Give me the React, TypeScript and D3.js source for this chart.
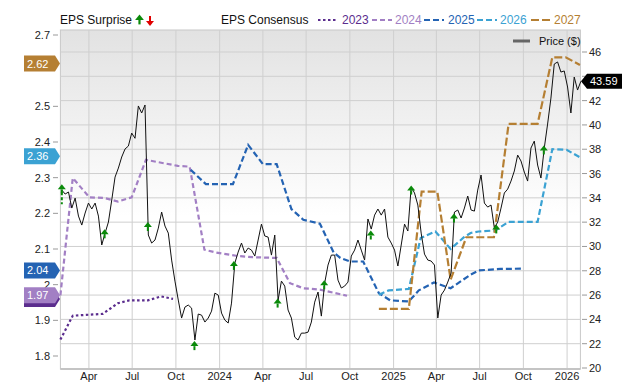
import React from "react";
import * as d3 from "d3";

const W = 640;
const H = 382;

// Weekly closing prices starting at priceStart
const priceStart = "2023-02-03";
const prices = [
  34.64, 34.31, 34.48, 33.16, 33.98, 32.5, 31.76, 32.75, 33.57, 33.08,
  33.57, 32.5, 30.12, 31.1, 32.01, 33.82, 35.71, 36.45, 37.36, 38.02,
  38.26, 39.33, 38.9, 41.56, 40.98, 41.64, 30.94, 30.28, 30.53, 31.51,
  32.83, 31.68, 31.1, 28.88, 27.15, 25.59, 24.11, 25.01, 25.18, 24.93,
  22.3, 24.44, 24.35, 23.78, 24.11, 24.68, 26.16, 26.0, 24.52, 23.94,
  23.7, 25.34, 28.63, 29.54, 30.28, 29.46, 29.87, 29.7, 29.21, 30.53,
  31.84, 30.86, 30.77, 29.29, 30.94, 25.59, 27.15, 26.74, 24.77, 24.11,
  22.54, 22.3, 22.87, 22.87, 22.95, 23.78, 25.42, 26.25, 24.27, 26.99,
  28.47, 29.29, 29.29, 27.23, 26.58, 26.74, 27.07, 29.21, 29.7, 30.53,
  29.7, 28.88, 32.26, 31.43, 32.58, 33.08, 32.58, 33.08, 30.77, 30.28,
  29.7, 28.39, 30.12, 31.84, 31.27, 34.89, 34.4, 33.41, 31.1, 29.37,
  28.88, 28.8, 28.47, 24.11, 26.0, 26.41, 27.07, 27.81, 32.83, 33.0,
  32.34, 33.16, 34.15, 33.0, 32.91, 34.64, 35.88, 33.57, 33.24, 33.41,
  31.51, 32.01, 33.16, 34.4, 34.72, 35.38, 36.21, 37.52, 37.03, 36.12,
  35.38, 38.1, 38.67, 36.7, 35.63, 38.1, 40.07, 42.21, 45.01, 45.18,
  44.35, 44.44, 43.12, 40.98, 43.94, 42.87, 43.59,
];

const eps2023: [string, number][] = [
  ["2023-01-31", 1.846], ["2023-02-26", 1.913], ["2023-04-30", 1.918],
  ["2023-06-01", 1.948], ["2023-06-25", 1.956], ["2023-08-03", 1.956],
  ["2023-08-31", 1.967], ["2023-09-25", 1.96],
];
const eps2024: [string, number][] = [
  ["2023-01-31", 1.97], ["2023-02-26", 2.299], ["2023-04-02", 2.245],
  ["2023-05-04", 2.243], ["2023-06-01", 2.233], ["2023-06-30", 2.245],
  ["2023-07-30", 2.35], ["2023-10-05", 2.333], ["2023-10-30", 2.331],
  ["2023-11-30", 2.098], ["2023-12-25", 2.09], ["2024-02-05", 2.081],
  ["2024-03-11", 2.077], ["2024-04-30", 2.075], ["2024-05-28", 2.004],
  ["2024-06-25", 1.99], ["2024-07-30", 1.986], ["2024-09-25", 1.969],
];
const eps2025: [string, number][] = [
  ["2023-11-01", 2.322], ["2023-12-03", 2.282], ["2024-01-29", 2.282],
  ["2024-03-01", 2.392], ["2024-04-01", 2.338], ["2024-04-30", 2.338],
  ["2024-05-31", 2.212], ["2024-06-25", 2.182], ["2024-07-30", 2.171],
  ["2024-08-28", 2.09], ["2024-09-11", 2.075], ["2024-10-01", 2.065],
  ["2024-10-29", 2.065], ["2024-12-01", 1.976], ["2024-12-25", 1.956],
  ["2025-02-02", 1.953], ["2025-02-23", 1.984], ["2025-03-27", 2.006],
  ["2025-05-01", 1.99], ["2025-06-12", 2.028], ["2025-06-29", 2.04],
  ["2025-08-14", 2.044], ["2025-10-02", 2.045],
];
const eps2026: [string, number][] = [
  ["2024-12-01", 1.972], ["2024-12-22", 1.984], ["2025-02-02", 1.988],
  ["2025-02-27", 2.131], ["2025-03-30", 2.149], ["2025-05-01", 2.1],
  ["2025-05-29", 2.133], ["2025-06-12", 2.145], ["2025-06-29", 2.149],
  ["2025-08-03", 2.152], ["2025-08-31", 2.176], ["2025-10-31", 2.176],
  ["2025-12-01", 2.38], ["2025-12-31", 2.378], ["2026-01-28", 2.357],
];
const eps2027: [string, number][] = [
  ["2024-12-01", 1.932], ["2025-02-02", 1.932], ["2025-03-01", 2.261],
  ["2025-04-03", 2.261], ["2025-05-01", 2.014], ["2025-06-03", 2.133],
  ["2025-07-31", 2.133], ["2025-08-31", 2.451], ["2025-10-31", 2.451],
  ["2025-12-01", 2.6375], ["2025-12-29", 2.6375], ["2026-01-28", 2.616],
];

const surpriseDates = [
  "2023-02-03", "2023-05-04", "2023-08-03", "2023-11-09", "2024-01-31", "2024-05-02",
  "2024-08-08", "2024-11-14", "2025-02-07", "2025-05-08", "2025-08-05", "2025-11-13",
];
const surpriseValues = [34.7, 31.0, 31.6, 21.8, 28.4, 25.3, 26.8, 30.9, 34.6, 32.3, 31.4, 37.9];

const seriesNames = ["2023", "2024", "2025", "2026", "2027"];
const seriesColors = ["#5b2d8e", "#a27fc4", "#2463b3", "#3ba2d3", "#b57f33"];
const seriesDash = ["2.5,2.5", "5,3", "6,3", "6,3", "8,3"];
const badgeValues = [1.96, 1.97, 2.04, 2.36, 2.62];
// the 2023 badge sits hidden behind the 2024 one, so its label is not shown
const badgeLabels = ["", "1.97", "2.04", "2.36", "2.62"];

const leftTicks = [1.8, 1.9, 2.0, 2.1, 2.2, 2.3, 2.4, 2.5, 2.7];
const leftTickLabels = ["1.8", "1.9", "2", "2.1", "2.2", "2.3", "2.4", "2.5", "2.7"];
const rightTicks = [20, 22, 24, 26, 28, 30, 32, 34, 36, 38, 40, 42, 44, 46];
const rightHiddenLabels = [44];
const lastPriceLabel = "43.59";

const FONT = "'Liberation Sans', Arial, sans-serif";

export default function App() {
  const parse = d3.utcParse("%Y-%m-%d");
  const x = d3.scaleUtc()
    .domain([parse("2023-01-31")!, parse("2026-01-29")!])
    .range([60.4, 580.4]);
  const yL = d3.scaleLinear().domain([1.8, 2.7]).range([356, 35]);
  const yR = d3.scaleLinear().domain([20, 46]).range([368, 52]);
  const plotTop = 30;
  const plotBottom = 369;
  const [x0, x1] = x.range();

  const start = parse(priceStart)!;
  const priceData = prices.map((v, i) => ({ d: d3.utcDay.offset(start, 7 * i), v }));
  const priceLine = d3.line<{ d: Date; v: number }>().x((p) => x(p.d)).y((p) => yR(p.v));
  const epsLine = d3.line<[string, number]>().x((p) => x(parse(p[0])!)).y((p) => yL(p[1]));
  const epsSeries = [eps2023, eps2024, eps2025, eps2026, eps2027];

  const qTicks = x.ticks(d3.utcMonth.every(3)!);
  const fmtTick = (d: Date) => (d.getUTCMonth() === 0 ? d3.utcFormat("%Y")(d) : d3.utcFormat("%b")(d));

  const lastPrice = prices[prices.length - 1];

  const arrowUp = (cx: number, cy: number, color: string, k = 1) => (
    <g>
      <path d={`M${cx},${cy - 5 * k} L${cx - 4 * k},${cy} L${cx + 4 * k},${cy} Z`} fill={color} />
      <rect x={cx - 1 * k} y={cy} width={2 * k} height={4 * k} fill={color} />
    </g>
  );

  const legendItems = [
    { lx: 318, tx: 342 },
    { lx: 372, tx: 395 },
    { lx: 424, tx: 448 },
    { lx: 477, tx: 500 },
    { lx: 531, tx: 554 },
  ];

  return (
    <svg width={W} height={H} style={{ position: "fixed", left: 0, top: 0, fontFamily: FONT }}>
      <defs>
        <linearGradient id="bg" x1="0" y1="0" x2="0" y2="1">
          <stop offset="0" stopColor="#e2e2e2" />
          <stop offset="0.55" stopColor="#ffffff" />
          <stop offset="1" stopColor="#ffffff" />
        </linearGradient>
      </defs>
      <rect x={0} y={0} width={W} height={H} fill="#fff" />
      <rect x={x0} y={plotTop} width={x1 - x0} height={plotBottom - plotTop} fill="url(#bg)" stroke="#c8c8c8" />

      {/* grid */}
      {qTicks.map((t, i) => (
        <line key={"vg" + i} x1={x(t)} x2={x(t)} y1={plotTop} y2={plotBottom} stroke="#cfcfcf" />
      ))}
      {rightTicks.slice(1).map((t, i) => (
        <line key={"hg" + i} x1={x0} x2={x1} y1={yR(t)} y2={yR(t)} stroke="#cfcfcf" />
      ))}
      <line x1={x0} x2={x1} y1={plotBottom} y2={plotBottom} stroke="#c4c4c4" strokeWidth={2} />

      {/* left axis */}
      {leftTicks.map((t, i) => (
        <g key={"lt" + i}>
          <line x1={53} x2={58} y1={yL(t)} y2={yL(t)} stroke="#999" />
          <text x={50} y={yL(t) + 4} fontSize={11} textAnchor="end" fill="#222">{leftTickLabels[i]}</text>
        </g>
      ))}
      {/* right axis */}
      {rightTicks.map((t, i) => (
        <g key={"rt" + i}>
          <line x1={582} x2={587} y1={yR(t)} y2={yR(t)} stroke="#999" />
          {rightHiddenLabels.includes(t) ? null : (
            <text x={589} y={yR(t) + 4} fontSize={11} fill="#222">{t}</text>
          )}
        </g>
      ))}
      {/* bottom axis */}
      {qTicks.map((t, i) => (
        <text key={"xt" + i} x={x(t)} y={380} fontSize={11} textAnchor="middle" fill="#222">{fmtTick(t)}</text>
      ))}

      {/* EPS consensus lines */}
      {epsSeries.map((s, i) => (
        <path key={"eps" + i} d={epsLine(s)!} fill="none" stroke={seriesColors[i]} strokeWidth={2.2}
          strokeDasharray={seriesDash[i]} />
      ))}

      {/* price */}
      <path d={priceLine(priceData)!} fill="none" stroke="#111" strokeWidth={1} />

      {/* surprise arrows */}
      <line x1={x(parse(surpriseDates[0])!)} x2={x(parse(surpriseDates[0])!)} y1={yR(surpriseValues[0]) + 3}
        y2={yR(surpriseValues[0]) + 15} stroke="#0a8a0a" strokeWidth={2} strokeDasharray="3,2" />
      {surpriseDates.map((d, i) => (
        <g key={"sa" + i}>{arrowUp(x(parse(d)!), yR(surpriseValues[i]), "#0a8a0a")}</g>
      ))}

      {/* left badges */}
      {badgeValues.map((v, i) => {
        const cy = yL(v);
        return (
          <g key={"bd" + i}>
            <path d={`M24,${cy - 8} L55,${cy - 8} L60,${cy} L55,${cy + 8} L24,${cy + 8} Z`} fill={seriesColors[i]} />
            {badgeLabels[i] ? (
              <text x={27} y={cy + 4} fontSize={11} fill="#fff">{badgeLabels[i]}</text>
            ) : null}
          </g>
        );
      })}

      {/* right price badge */}
      <path d={`M581,${yR(lastPrice)} L587,${yR(lastPrice) - 7.5} L622,${yR(lastPrice) - 7.5} L622,${yR(lastPrice) + 7.5} L587,${yR(lastPrice) + 7.5} Z`} fill="#000" />
      <text x={590} y={yR(lastPrice) + 4} fontSize={11} fill="#fff">{lastPriceLabel}</text>

      {/* top legend */}
      <text x={60} y={24} fontSize={12} fill="#111">EPS Surprise</text>
      {arrowUp(139.5, 20, "#0a8a0a", 1.1)}
      <g>
        <path d={`M150,26 L146,21 L154,21 Z`} fill="#e00000" />
        <rect x={149} y={16} width={2} height={5} fill="#e00000" />
      </g>
      <text x={221} y={24} fontSize={12} fill="#111">EPS Consensus</text>
      {legendItems.map((it, i) => (
        <g key={"lg" + i}>
          <line x1={it.lx} x2={it.lx + 20} y1={20} y2={20} stroke={seriesColors[i]} strokeWidth={2.2}
            strokeDasharray={seriesDash[i]} />
          <text x={it.tx} y={24} fontSize={12} fill={seriesColors[i]}>{seriesNames[i]}</text>
        </g>
      ))}

      {/* price legend */}
      <line x1={513} x2={530} y1={41} y2={41} stroke="#666" strokeWidth={3} />
      <text x={539} y={45} fontSize={11} fill="#111">Price ($)</text>
    </svg>
  );
}
